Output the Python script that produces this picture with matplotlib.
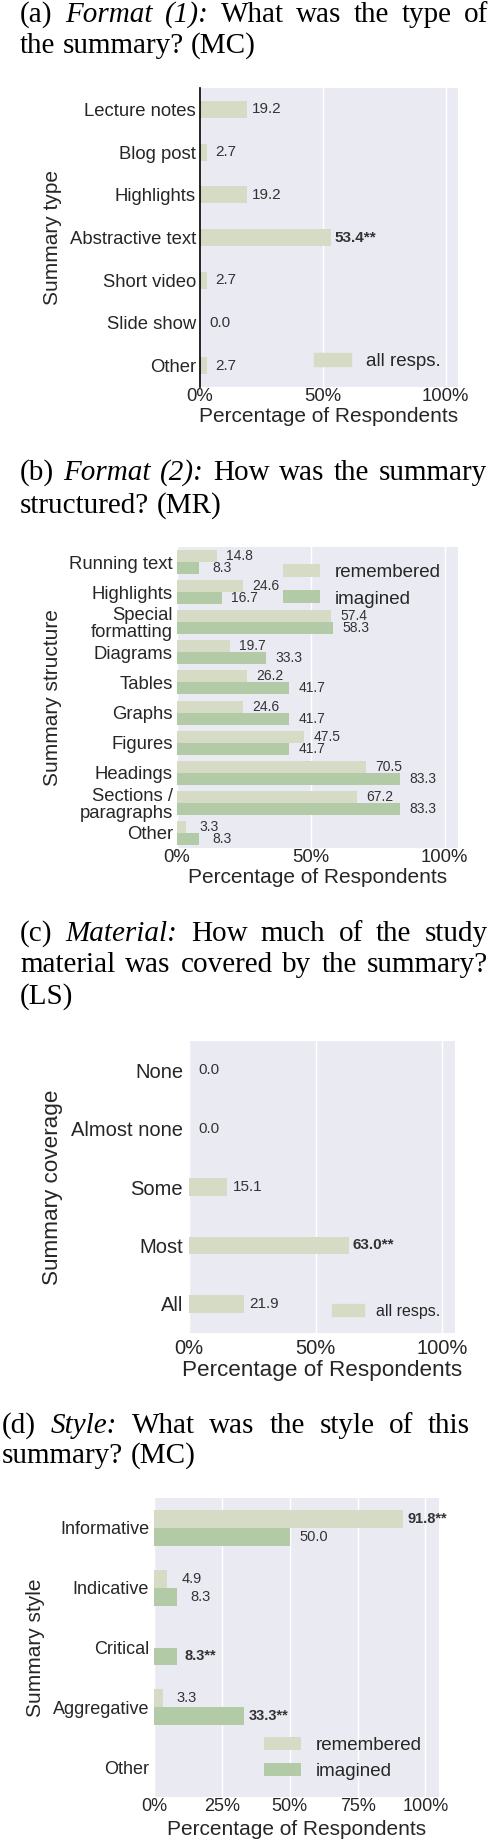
import matplotlib
matplotlib.use('Agg')
import matplotlib.pyplot as plt
from matplotlib.patches import Patch

# (a) type of summary
type_labels = ['Lecture notes', 'Blog post', 'Highlights', 'Abstractive text',
               'Short video', 'Slide show', 'Other']
type_all = [19.2, 2.7, 19.2, 53.4, 2.7, 0.0, 2.7]
type_sig = [False, False, False, True, False, False, False]

# (b) structure of summary
struct_labels = ['Running text', 'Highlights', 'Special\nformatting', 'Diagrams', 'Tables',
                 'Graphs', 'Figures', 'Headings', 'Sections /\nparagraphs', 'Other']
struct_rem = [14.8, 24.6, 57.4, 19.7, 26.2, 24.6, 47.5, 70.5, 67.2, 3.3]
struct_ima = [8.3, 16.7, 58.3, 33.3, 41.7, 41.7, 41.7, 83.3, 83.3, 8.3]

# (c) coverage of material
cov_labels = ['None', 'Almost none', 'Some', 'Most', 'All']
cov_all = [0.0, 0.0, 15.1, 63.0, 21.9]
cov_sig = [False, False, False, True, False]

# (d) style of summary
style_labels = ['Informative', 'Indicative', 'Critical', 'Aggregative', 'Other']
style_rem = [91.8, 4.9, 0.0, 3.3, 0.0]
style_ima = [50.0, 8.3, 8.3, 33.3, 0.0]
style_rem_sig = [True, False, False, False, False]
style_ima_sig = [False, False, True, True, False]

# captions: (word, italic)
cap_a = [[('(a)', 0), ('Format', 1), ('(1):', 1), ('What', 0), ('was', 0), ('the', 0), ('type', 0), ('of', 0)],
         [('the', 0), ('summary?', 0), ('(MC)', 0)]]
cap_b = [[('(b)', 0), ('Format', 1), ('(2):', 1), ('How', 0), ('was', 0), ('the', 0), ('summary', 0)],
         [('structured?', 0), ('(MR)', 0)]]
cap_c = [[('(c)', 0), ('Material:', 1), ('How', 0), ('much', 0), ('of', 0), ('the', 0), ('study', 0)],
         [('material', 0), ('was', 0), ('covered', 0), ('by', 0), ('the', 0), ('summary?', 0)],
         [('(LS)', 0)]]
cap_d = [[('(d)', 0), ('Style:', 1), ('What', 0), ('was', 0), ('the', 0), ('style', 0), ('of', 0), ('this', 0)],
         [('summary?', 0), ('(MC)', 0)]]

LIGHT = '#d5dbc4'
DARK = '#b3caa6'
BG = '#eaeaf2'
TXT = '#262626'
VAL = '#333333'

plt.rcParams['font.family'] = ['Liberation Sans', 'DejaVu Sans']

W, H = 492, 1842
fig = plt.figure(figsize=(W / 100, H / 100), dpi=100)
renderer = fig.canvas.get_renderer()


def caption(lines, baselines, x0, x1):
    for i, (words, y) in enumerate(zip(lines, baselines)):
        texts, widths = [], []
        for w, it in words:
            t = fig.text(0, 1 - y / H, w, family='Liberation Serif',
                         style='italic' if it else 'normal', fontsize=21,
                         va='baseline', ha='left', color='black')
            texts.append(t)
            widths.append(t.get_window_extent(renderer).width)
        if i == len(lines) - 1 or len(words) == 1:
            gap = 0.25 * 21 * 100 / 72
        else:
            gap = (x1 - x0 - sum(widths)) / (len(words) - 1)
        x = x0
        for t, w in zip(texts, widths):
            t.set_x(x / W)
            x += w + gap


def make_axes(l, t, r, b):
    ax = fig.add_axes([l / W, 1 - b / H, (r - l) / W, (b - t) / H])
    ax.set_facecolor(BG)
    for s in ax.spines.values():
        s.set_visible(False)
    ax.grid(axis='x', color='white', lw=1.0)
    ax.grid(axis='y', visible=False)
    ax.set_axisbelow(True)
    ax.set_xlim(0, 105)
    ax._px = (l, t, r, b)
    return ax


def put_labels(ax, ylab, xl_y, yl_x, size, tick_size, ypad, xpad):
    # xl_y: centre of x label (px from top), yl_x: centre of y label (px from left)
    l, t, r, b = ax._px
    ax.tick_params(axis='y', length=0, pad=ypad, labelsize=tick_size, labelcolor=TXT)
    ax.tick_params(axis='x', length=0, pad=xpad, labelsize=tick_size, labelcolor=TXT)
    ax.set_xlabel('Percentage of Respondents', fontsize=size, color=TXT)
    ax.xaxis.label.set_va('center')
    ax.xaxis.set_label_coords(0.5, (b - xl_y) / (b - t))
    ax.set_ylabel(ylab, fontsize=size, color=TXT)
    ax.yaxis.label.set_va('center')
    ax.yaxis.set_label_coords((yl_x - l) / (r - l), 0.5)


def value(ax, x, y, bold, size, off):
    txt = f'{x:.1f}' + ('**' if bold else '')
    ax.annotate(txt, (x, y), xytext=(off, 0), textcoords='offset points',
                ha='center', va='center', fontsize=size, color=VAL,
                fontweight='bold' if bold else 'normal')


pct = lambda v: [f'{int(x)}%' for x in v]

# ---------- (a)
caption(cap_a, [22, 53], 20, 488)
ax = make_axes(200, 88, 458, 387)
ypos = list(range(len(type_labels)))
ax.barh(ypos, type_all, height=0.4, color=LIGHT)
ax.set_yticks(ypos)
ax.set_yticklabels(type_labels)
ax.set_ylim(len(type_labels) - 0.5, -0.5)
ax.set_xticks([0, 50, 100])
ax.set_xticklabels(pct([0, 50, 100]))
ax.spines['left'].set_visible(True)
ax.spines['left'].set_color('black')
ax.spines['left'].set_linewidth(1.2)
for y, v, s in zip(ypos, type_all, type_sig):
    value(ax, v, y, s, 11, 17.3 if s else 14)
ax.legend(handles=[Patch(color=LIGHT, label='all resps.')], loc='lower right',
          frameon=False, fontsize=13.5, labelcolor=TXT)
put_labels(ax, 'Summary type', 417, 53, 15, 13.3, 2.9, 1)

# ---------- (b)
caption(cap_b, [480, 513], 20, 487)
ax = make_axes(177, 547, 458, 848)
ypos = list(range(len(struct_labels)))
ax.barh([y - 0.2 for y in ypos], struct_rem, height=0.4, color=LIGHT, label='remembered')
ax.barh([y + 0.2 for y in ypos], struct_ima, height=0.4, color=DARK, label='imagined')
ax.set_yticks(ypos)
ax.set_yticklabels(struct_labels, linespacing=1.0)
ax.set_ylim(len(struct_labels) - 0.5, -0.5)
ax.set_xticks([0, 50, 100])
ax.set_xticklabels(pct([0, 50, 100]))
for y, a, b in zip(ypos, struct_rem, struct_ima):
    value(ax, a, y - 0.2, False, 10, 16.6)
    value(ax, b, y + 0.2, False, 10, 16.6)
ax.legend(loc='upper right', frameon=False, fontsize=13.5, labelcolor=TXT)
put_labels(ax, 'Summary structure', 877, 53, 15, 13.3, 2.9, 0.5)

# ---------- (c)
caption(cap_c, [941, 972, 1004], 20, 488)
ax = make_axes(189, 1041, 455, 1333)
ypos = list(range(len(cov_labels)))
ax.barh(ypos, cov_all, height=0.3, color=LIGHT)
ax.set_yticks(ypos)
ax.set_yticklabels(cov_labels)
ax.set_ylim(len(cov_labels) - 0.5, -0.5)
ax.set_xticks([0, 50, 100])
ax.set_xticklabels(pct([0, 50, 100]))
for y, v, s in zip(ypos, cov_all, cov_sig):
    value(ax, v, y, s, 11, 18 if s else 14.4)
ax.legend(handles=[Patch(color=LIGHT, label='all resps.')], loc='lower right',
          frameon=False, fontsize=11.5, labelcolor=TXT)
put_labels(ax, 'Summary coverage', 1370, 53, 16.2, 14.5, 4.3, 4)

# ---------- (d)
caption(cap_d, [1433, 1463], 2, 470)
ax = make_axes(154, 1498, 439, 1797)
ypos = list(range(len(style_labels)))
ax.barh([y - 0.15 for y in ypos], style_rem, height=0.3, color=LIGHT, label='remembered')
ax.barh([y + 0.15 for y in ypos], style_ima, height=0.3, color=DARK, label='imagined')
ax.set_yticks(ypos)
ax.set_yticklabels(style_labels)
ax.set_ylim(len(style_labels) - 0.5, -0.5)
ax.set_xticks([0, 25, 50, 75, 100])
ax.set_xticklabels(pct([0, 25, 50, 75, 100]))
for y, a, b, sa, sb in zip(ypos, style_rem, style_ima, style_rem_sig, style_ima_sig):
    if a > 0:
        value(ax, a, y - 0.15, sa, 10.5, 17.3)
    if b > 0:
        value(ax, b, y + 0.15, sb, 10.5, 17.3)
ax.legend(loc='lower right', frameon=False, fontsize=13.5, labelcolor=TXT)
put_labels(ax, 'Summary style', 1829, 35, 15, 13, 3.6, 1)

fig.savefig('out.png', dpi=100, facecolor='white')
